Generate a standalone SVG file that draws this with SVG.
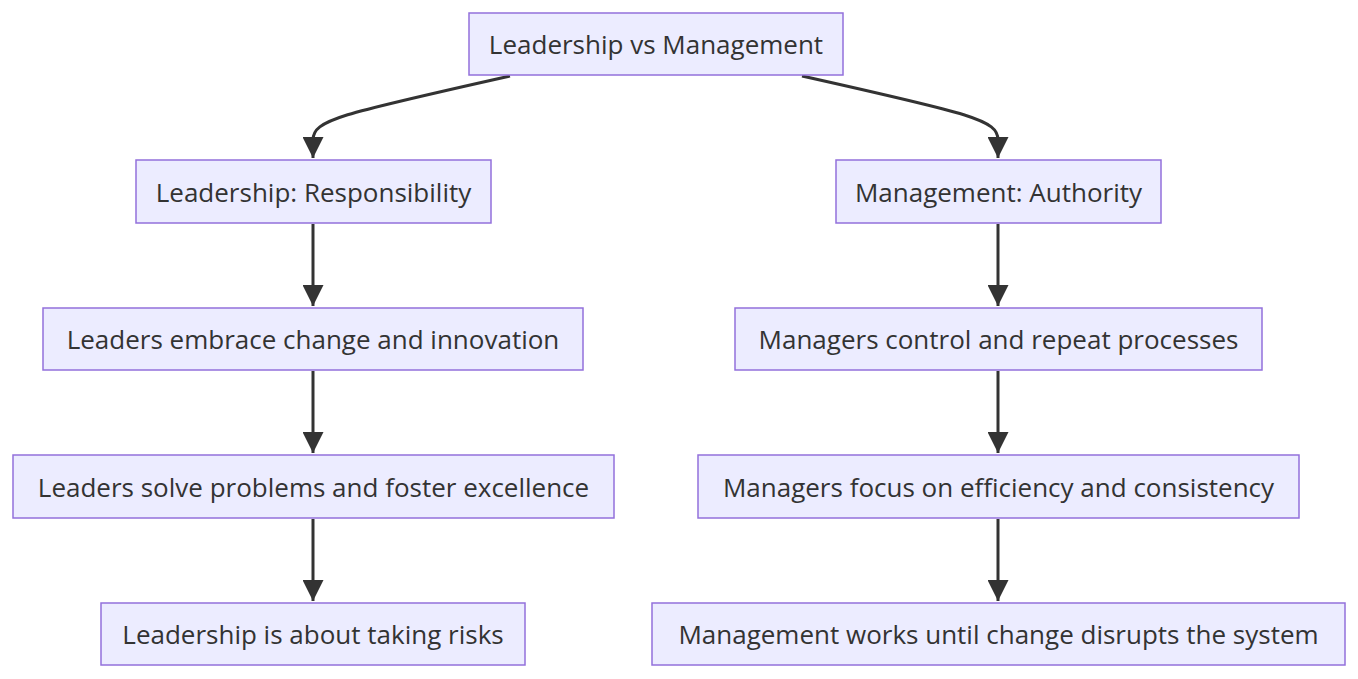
<svg xmlns="http://www.w3.org/2000/svg" width="1358" height="679" viewBox="0 0 1358 679">
<style>
.n rect{fill:#ECECFF;stroke:#9370DB;stroke-width:1.5}
.n text{font-family:"Open Sans","Noto Sans",sans-serif;font-size:26px;fill:#333;text-anchor:middle;dominant-baseline:central}
.e path{fill:none;stroke:#333;stroke-width:3}
</style>
<defs><marker id="a" viewBox="0 0 10 10" refX="10" refY="5" markerWidth="7" markerHeight="7" markerUnits="strokeWidth" orient="auto"><path d="M0,0L10,5L0,10z" fill="#333"/></marker></defs>
<rect width="1358" height="679" fill="#fff"/>
<g class="e">
<path d="M510,76 C340,114 313,120 313,140 L313,158" marker-end="url(#a)"/>
<path d="M802,76 C972,114 998,120 998,140 L998,158" marker-end="url(#a)"/>
<path d="M313,224 L313,306" marker-end="url(#a)"/>
<path d="M313,371 L313,453" marker-end="url(#a)"/>
<path d="M313,519 L313,601" marker-end="url(#a)"/>
<path d="M998,224 L998,306" marker-end="url(#a)"/>
<path d="M998,371 L998,453" marker-end="url(#a)"/>
<path d="M998,519 L998,601" marker-end="url(#a)"/>
</g>
<g id="top" class="n"><rect x="469" y="13" width="374" height="62"/><text x="656" y="44">Leadership vs Management</text></g>
<g id="l1" class="n"><rect x="136" y="160" width="355" height="63"/><text x="313.5" y="191.5">Leadership: Responsibility</text></g>
<g id="r1" class="n"><rect x="836" y="160" width="325" height="63"/><text x="998.5" y="191.5">Management: Authority</text></g>
<g id="l2" class="n"><rect x="43" y="308" width="540" height="62"/><text x="313" y="339">Leaders embrace change and innovation</text></g>
<g id="r2" class="n"><rect x="735" y="308" width="527" height="62"/><text x="998.5" y="339">Managers control and repeat processes</text></g>
<g id="l3" class="n"><rect x="13" y="455" width="601" height="63"/><text x="313.5" y="486.5">Leaders solve problems and foster excellence</text></g>
<g id="r3" class="n"><rect x="698" y="455" width="601" height="63"/><text x="998.5" y="486.5">Managers focus on efficiency and consistency</text></g>
<g id="l4" class="n"><rect x="101" y="603" width="424" height="62"/><text x="313" y="634">Leadership is about taking risks</text></g>
<g id="r4" class="n"><rect x="652" y="603" width="693" height="62"/><text x="998.5" y="634">Management works until change disrupts the system</text></g>
</svg>
